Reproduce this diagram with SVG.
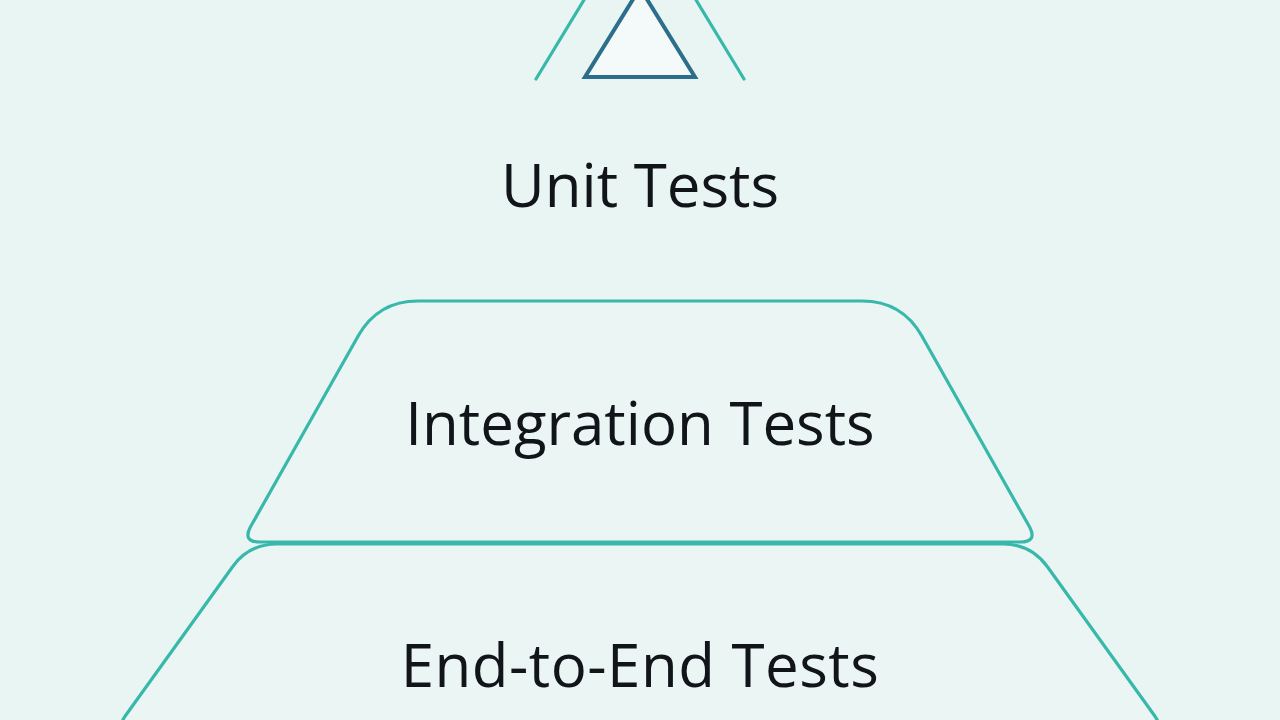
<svg xmlns="http://www.w3.org/2000/svg" width="1280" height="720" viewBox="0 0 1280 720">
  <style>
    .tier { fill: #ebf6f4; stroke: #38b8aa; stroke-width: 3.2; stroke-linejoin: round; }
    .edge { fill: none; stroke: #38b8aa; stroke-width: 3.2; stroke-linecap: round; }
    .label { font-family: "Open Sans", "Liberation Sans", sans-serif; font-size: 60px; fill: #111418; text-anchor: middle; }
  </style>
  <rect x="0" y="0" width="1280" height="720" fill="#e9f5f3"/>
  <g id="connectors">
    <line class="edge" x1="536" y1="79" x2="590" y2="-10"/>
    <line class="edge" x1="744" y1="79" x2="690" y2="-10"/>
  </g>
  <g id="apex">
    <polygon points="640,-12 585,77 695,77" fill="#f4fafa" stroke="#2d6e8d" stroke-width="4" stroke-linejoin="miter"/>
  </g>
  <g id="unit-tests">
    <text class="label" x="640" y="207">Unit Tests</text>
  </g>
  <g id="integration-tests">
    <path class="tier" d="M 418,301 L 862,301 Q 902,301 921.7,335.8 L 1029.2,526.3 Q 1038,542 1020,542 L 260,542 Q 242,542 250.8,526.3 L 358.3,335.8 Q 378,301 418,301 Z"/>
    <text class="label" x="640" y="445">Integration Tests</text>
  </g>
  <g id="end-to-end-tests">
    <path class="tier" d="M 277,544 L 1003,544 Q 1031,544 1047.4,566.7 L 1153.9,714.7 Q 1168.5,735 1143.5,735 L 136.5,735 Q 111.5,735 126.1,714.7 L 232.6,566.7 Q 249,544 277,544 Z"/>
    <text class="label" x="640" y="687" letter-spacing="0.5">End-to-End Tests</text>
  </g>
</svg>
